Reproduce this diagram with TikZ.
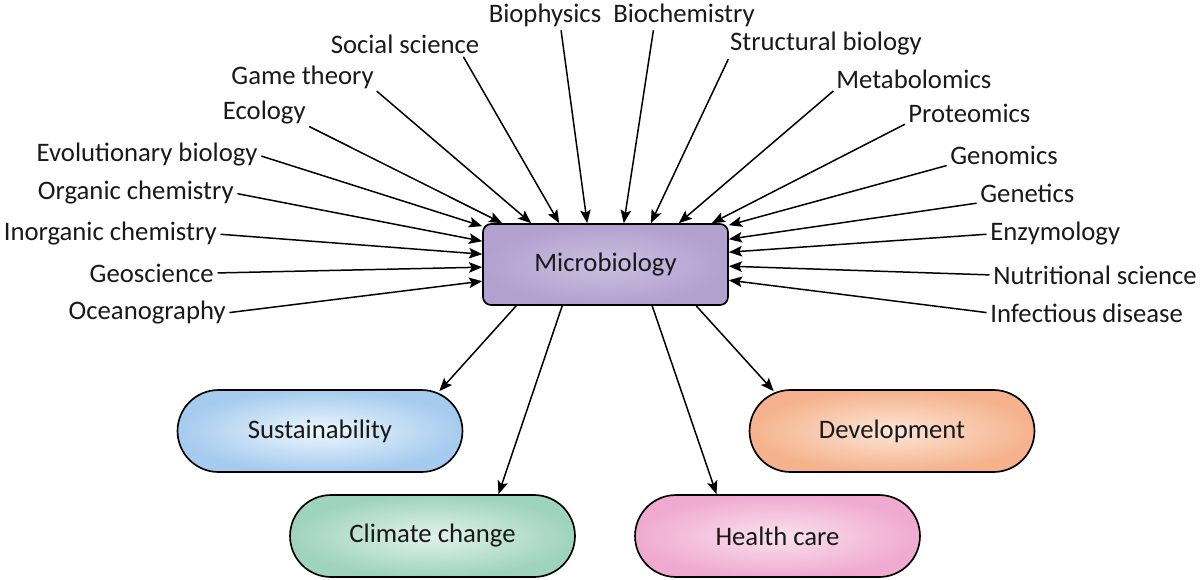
\documentclass[tikz,border=0pt]{standalone}
\usepackage{fontspec}
\setmainfont{Carlito}
\usepackage{tikz}
\usetikzlibrary{
	arrows.meta,
	calc,
	positioning
}
\definecolor{MicroEdge}{RGB}{178,160,207}
\definecolor{MicroCore}{RGB}{203,191,225}
\definecolor{SustEdge}{RGB}{165,203,238}
\definecolor{SustCore}{RGB}{238,246,254}
\definecolor{ClimEdge}{RGB}{158,211,190}
\definecolor{ClimCore}{RGB}{226,242,236}
\definecolor{DevEdge}{RGB}{245,178,140}
\definecolor{DevCore}{RGB}{252,230,215}
\definecolor{HealthEdge}{RGB}{240,170,207}
\definecolor{HealthCore}{RGB}{250,226,239}
\definecolor{InkGray}{RGB}{25,25,25}

\begin{document}
\begin{tikzpicture}[x=0.02cm, y=-0.02cm,
		font=\fontsize{15.2}{18}\selectfont, text=InkGray,
		field/.style={inner sep=0pt},
		feed/.style={-{Stealth[length=7.5pt,width=6pt,inset=1.5pt]}, line width=0.85pt, shorten <=2pt},
		goal/.style={draw, line width=0.95pt, rounded corners=0.82cm, minimum width=5.7cm, minimum height=1.64cm}]
		\useasboundingbox (0,0) rectangle (1200,579);
		
		% 中心
		\node[draw, line width=0.95pt, rounded corners=0.16cm, minimum width=4.9cm, minimum height=1.62cm,
			inner color=MicroCore, outer color=MicroEdge] (mb) at (605.5,264.5) {Microbiology};
		
		% 左侧学科
		\node[field, anchor=east] (evo) at (258,155) {Evolutionary biology};
		\node[field, anchor=east] (org) at (234,193) {Organic chemistry};
		\node[field, anchor=east] (ino) at (217,234) {Inorganic chemistry};
		\node[field, anchor=east] (geo) at (214,273) {Geoscience};
		\node[field, anchor=east] (oce) at (226,313) {Oceanography};
		\node[field, anchor=east] (eco) at (306,113) {Ecology};
		\node[field, anchor=east] (gam) at (374,77) {Game theory};
		\node[field] (soc) at (405,44) {Social science};
		\node[field] (bph) at (545,15) {Biophysics};
		
		% 右侧学科
		\node[field] (bch) at (684,15) {Biochemistry};
		\node[field] (str) at (826,44) {Structural biology};
		\node[field, anchor=west] (met) at (836,79) {Metabolomics};
		\node[field, anchor=west] (pro) at (908,113) {Proteomics};
		\node[field, anchor=west] (gen) at (950,155) {Genomics};
		\node[field, anchor=west] (gnt) at (980,193) {Genetics};
		\node[field, anchor=west] (enz) at (990,234) {Enzymology};
		\node[field, anchor=west] (nut) at (993,275) {Nutritional science};
		\node[field, anchor=west] (inf) at (990,313) {Infectious disease};
		
		\draw[feed] (evo.east) -- ($(mb.north west)+(0,3)$);
		\draw[feed] (org.east) -- ($(mb.north west)+(0,18)$);
		\draw[feed] (ino.east) -- ($(mb.north west)+(0,31)$);
		\draw[feed] (geo.east) -- ($(mb.north west)+(0,44)$);
		\draw[feed] (oce.east) -- ($(mb.north west)+(0,58)$);
		\draw[feed] (eco.south east) -- ($(mb.north west)+(20,0)$);
		\draw[feed] (gam.south east) -- ($(mb.north west)+(49,0)$);
		\draw[feed] ($(soc.south east)+(-18,0)$) -- ($(mb.north west)+(77,0)$);
		\draw[feed] ($(bph.south east)+(-41,0)$) -- ($(mb.north west)+(105,0)$);
		\draw[feed] ($(bch.south west)+(41,0)$) -- ($(mb.north east)+(-105,0)$);
		\draw[feed] (str.south west) -- ($(mb.north east)+(-78,0)$);
		\draw[feed] (met.south west) -- ($(mb.north east)+(-50,0)$);
		\draw[feed] (pro.south west) -- ($(mb.north east)+(-17,0)$);
		\draw[feed] (gen.south west) -- ($(mb.north east)+(0,2)$);
		\draw[feed] (gnt.south west) -- ($(mb.north east)+(0,16)$);
		\draw[feed] (enz.west) -- ($(mb.north east)+(0,29)$);
		\draw[feed] (nut.west) -- ($(mb.north east)+(0,43)$);
		\draw[feed] (inf.west) -- ($(mb.north east)+(0,57)$);
		
		% 应用领域
		\node[goal, inner color=SustCore, outer color=SustEdge] (sus) at (320,431) {Sustainability};
		\node[goal, inner color=DevCore, outer color=DevEdge] (dev) at (892,431) {Development};
		\node[goal, inner color=ClimCore, outer color=ClimEdge] (cli) at (432.5,536) {Climate change};
		\node[goal, inner color=HealthCore, outer color=HealthEdge] (hea) at (777.5,536) {Health care};
		
		\draw[feed, shorten <=0pt] ($(mb.south west)+(34,0)$) -- ($(sus.north east)+(-24,2)$);
		\draw[feed, shorten <=0pt] ($(mb.south west)+(80,0)$) -- ($(cli.north)+(66,0)$);
		\draw[feed, shorten <=0pt] ($(mb.south west)+(170,0)$) -- ($(hea.north)+(-61,0)$);
		\draw[feed, shorten <=0pt] ($(mb.south west)+(214,0)$) -- ($(dev.north west)+(25,2)$);
	\end{tikzpicture}
\end{document}
